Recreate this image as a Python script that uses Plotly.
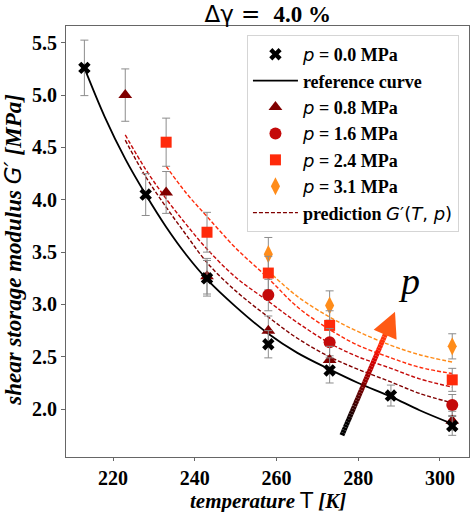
import plotly.graph_objects as go

# ---------------- data ----------------
T0 = [213, 228, 243, 258, 273, 288, 303]
G0 = [5.26, 4.05, 3.25, 2.62, 2.37, 2.13, 1.84]
E0 = [0.265, 0.20, 0.17, 0.13, 0.12, 0.10, 0.09]

T08 = [223, 233, 243, 258, 273, 303]
G08 = [5.00, 4.07, 3.27, 2.75, 2.47, 1.89]
E08 = [0.25, 0.20, 0.17, 0.14, 0.13, 0.09]

T16 = [258, 273, 303]
G16 = [3.09, 2.64, 2.04]
E16 = [0.15, 0.13, 0.10]

T24 = [233, 243, 258, 273, 303]
G24 = [4.55, 3.69, 3.30, 2.80, 2.28]
E24 = [0.23, 0.19, 0.16, 0.14, 0.11]

T31 = [258, 273, 303]
G31 = [3.48, 2.99, 2.60]
E31 = [0.16, 0.14, 0.12]

# reference curve
T_ref = [213, 218, 223, 228, 233, 238, 243, 250, 258, 265, 273, 280, 288, 295, 303]
G_ref = [5.26, 4.79, 4.39, 4.05, 3.74, 3.47, 3.24, 2.98, 2.72, 2.54, 2.38, 2.25, 2.12, 1.99, 1.86]

# predictions G'(T, p)
Tp08 = [223, 228, 233, 238, 243, 250, 258, 265, 273, 280, 288, 295, 303]
Gp08 = [4.57, 4.22, 3.93, 3.66, 3.40, 3.13, 2.88, 2.68, 2.50, 2.38, 2.26, 2.15, 2.06]
Tp16 = [223, 228, 233, 238, 243, 250, 258, 265, 273, 280, 288, 295, 303]
Gp16 = [4.62, 4.29, 4.01, 3.76, 3.53, 3.26, 3.03, 2.83, 2.63, 2.50, 2.39, 2.29, 2.21]
Tp24 = [233, 238, 243, 250, 258, 265, 273, 280, 288, 295, 303]
Gp24 = [4.32, 4.06, 3.84, 3.54, 3.25, 2.98, 2.76, 2.61, 2.49, 2.40, 2.34]
Tp31 = [258, 265, 273, 280, 288, 295, 303]
Gp31 = [3.32, 3.08, 2.88, 2.74, 2.61, 2.52, 2.45]

x_ticks = [220, 240, 260, 280, 300]
y_ticks = [2.0, 2.5, 3.0, 3.5, 4.0, 4.5, 5.0, 5.5]

# arrow annotation (tail, tip) in data units
arrow_tail = (276.0, 1.75)
arrow_tip = (289.0, 2.93)
p_label_pos = (292.3, 3.22)

# ---------------- styles ----------------
C08 = "#800000"
C16 = "#c40a0a"
C24 = "#ff2a0a"
C31 = "#ff8c1a"
ERRC = "#8c8c8c"
SERIF = "Liberation Serif"
SANS = "DejaVu Sans"


def ptxt(val):
    return (f"<span style='font-family:{SANS};font-style:italic;font-weight:normal'>p</span>"
            f"<b> = {val} MPa</b>")


def errs(e):
    return dict(type="data", array=e, visible=True, color=ERRC, thickness=1, width=4)


fig = go.Figure()

# curves
fig.add_trace(go.Scatter(x=Tp08, y=Gp08, mode="lines", line=dict(color=C08, width=1.4, dash="4px,2px"),
                         line_shape="spline",
                         name=f"<b>prediction </b><span style='font-family:{SANS};font-weight:normal'><i>G</i>′(<i>T</i>, <i>p</i>)</span>",
                         legendrank=7, showlegend=True))
fig.add_trace(go.Scatter(x=Tp16, y=Gp16, mode="lines", line=dict(color=C16, width=1.4, dash="4px,2px"),
                         line_shape="spline", showlegend=False))
fig.add_trace(go.Scatter(x=Tp24, y=Gp24, mode="lines", line=dict(color=C24, width=1.4, dash="4px,2px"),
                         line_shape="spline", showlegend=False))
fig.add_trace(go.Scatter(x=Tp31, y=Gp31, mode="lines", line=dict(color=C31, width=1.4, dash="4px,2px"),
                         line_shape="spline", showlegend=False))
fig.add_trace(go.Scatter(x=T_ref, y=G_ref, mode="lines", line=dict(color="black", width=1.8),
                         line_shape="spline", name="<b>reference curve</b>", legendrank=2))

# markers
fig.add_trace(go.Scatter(x=T31, y=G31, error_y=errs(E31), mode="markers",
                         marker=dict(symbol="diamond-tall", size=13, color=C31),
                         name=ptxt("3.1"), legendrank=6))
fig.add_trace(go.Scatter(x=T24, y=G24, error_y=errs(E24), mode="markers",
                         marker=dict(symbol="square", size=11, color=C24),
                         name=ptxt("2.4"), legendrank=5))
fig.add_trace(go.Scatter(x=T16, y=G16, error_y=errs(E16), mode="markers",
                         marker=dict(symbol="circle", size=12, color=C16),
                         name=ptxt("1.6"), legendrank=4))
fig.add_trace(go.Scatter(x=T08, y=G08, error_y=errs(E08), mode="markers",
                         marker=dict(symbol="triangle-up", size=12, color=C08),
                         name=ptxt("0.8"), legendrank=3))
fig.add_trace(go.Scatter(x=T0, y=G0, error_y=errs(E0), mode="markers",
                         marker=dict(symbol="x", size=11, color="black"),
                         name=ptxt("0.0"), legendrank=1))

# gradient arrow shaft (black -> dark red -> red -> orange-red)
N = 40
x0, y0 = arrow_tail
x1, y1 = arrow_tip
frac_end = 0.86
shapes = []
for i in range(N):
    a = frac_end * i / N
    b = frac_end * (i + 1) / N
    t = (i + 0.5) / N
    r = min(1.0, max(0.0, (t - 0.12) * 1.45))
    g = max(0.0, (t - 0.7) / 0.3) * 0.30
    col = f"rgb({int(r*255)},{int(g*255)},{int(g*0.2*255)})"
    shapes.append(dict(type="line", xref="x", yref="y",
                       x0=x0 + (x1 - x0) * a, y0=y0 + (y1 - y0) * a,
                       x1=x0 + (x1 - x0) * b, y1=y0 + (y1 - y0) * b,
                       line=dict(color=col, width=5)))
fig.update_layout(shapes=shapes)

hb = 0.80
fig.add_annotation(x=x1, y=y1, ax=x0 + (x1 - x0) * hb, ay=y0 + (y1 - y0) * hb,
                   xref="x", yref="y", axref="x", ayref="y", text="", showarrow=True,
                   arrowhead=2, arrowsize=1.0, arrowwidth=5, arrowcolor="#ff5a14", standoff=0)
fig.add_annotation(x=p_label_pos[0], y=p_label_pos[1], xref="x", yref="y",
                   text="<i>p</i>", showarrow=False,
                   font=dict(family=SERIF, size=38, color="black"))

# axis titles as annotations (fixed positions, no automargin)
fig.add_annotation(x=0.5, y=-0.103, xref="paper", yref="paper", xanchor="center", yanchor="middle",
                   showarrow=False,
                   text=f"<b><i>temperature </i></b><span style='font-family:{SANS}'>T</span><b><i> [K]</i></b>",
                   font=dict(family=SERIF, size=21, color="black"))
fig.add_annotation(x=-0.13, y=0.48, xref="paper", yref="paper", xanchor="center", yanchor="middle",
                   showarrow=False, textangle=-90,
                   text=f"<b><i>shear storage modulus </i></b><span style='font-family:{SANS};font-style:italic'>G′</span><b><i> [MPa]</i></b>",
                   font=dict(family=SERIF, size=23, color="black"))

fig.update_layout(
    width=474, height=512,
    margin=dict(l=66, r=5, t=26, b=55),
    paper_bgcolor="white", plot_bgcolor="white",
    title=dict(text=f"<span style='font-family:{SANS}'>Δγ = </span><b> 4.0 %</b>",
               x=0.5647, xanchor="center", y=0.973, yanchor="middle",
               font=dict(family=SERIF, size=23, color="black")),
    legend=dict(x=0.449, y=0.979, xanchor="left", yanchor="top",
                bgcolor="rgba(255,255,255,0.85)", bordercolor="#d5d5d5", borderwidth=1,
                font=dict(family=SERIF, size=18, color="black"),
                itemwidth=45, tracegroupgap=0),
    showlegend=True,
)
fig.update_xaxes(range=[208.5, 307.1], tickvals=x_ticks, ticktext=[f"<b>{v}</b>" for v in x_ticks],
                 showline=True, mirror=True, linecolor="#666666", linewidth=1.2, automargin=False,
                 ticks="outside", ticklen=3, tickcolor="#666666", showgrid=False, zeroline=False,
                 tickfont=dict(family=SERIF, size=20, color="black"))
fig.update_yaxes(range=[1.543, 5.66], tickvals=y_ticks, ticktext=[f"<b>{v:.1f}</b>" for v in y_ticks],
                 showline=True, mirror=True, linecolor="#666666", linewidth=1.2, automargin=False,
                 ticks="outside", ticklen=4, tickcolor="#666666", showgrid=False, zeroline=False,
                 tickfont=dict(family=SERIF, size=20, color="black"))

fig.write_html("out.html")
